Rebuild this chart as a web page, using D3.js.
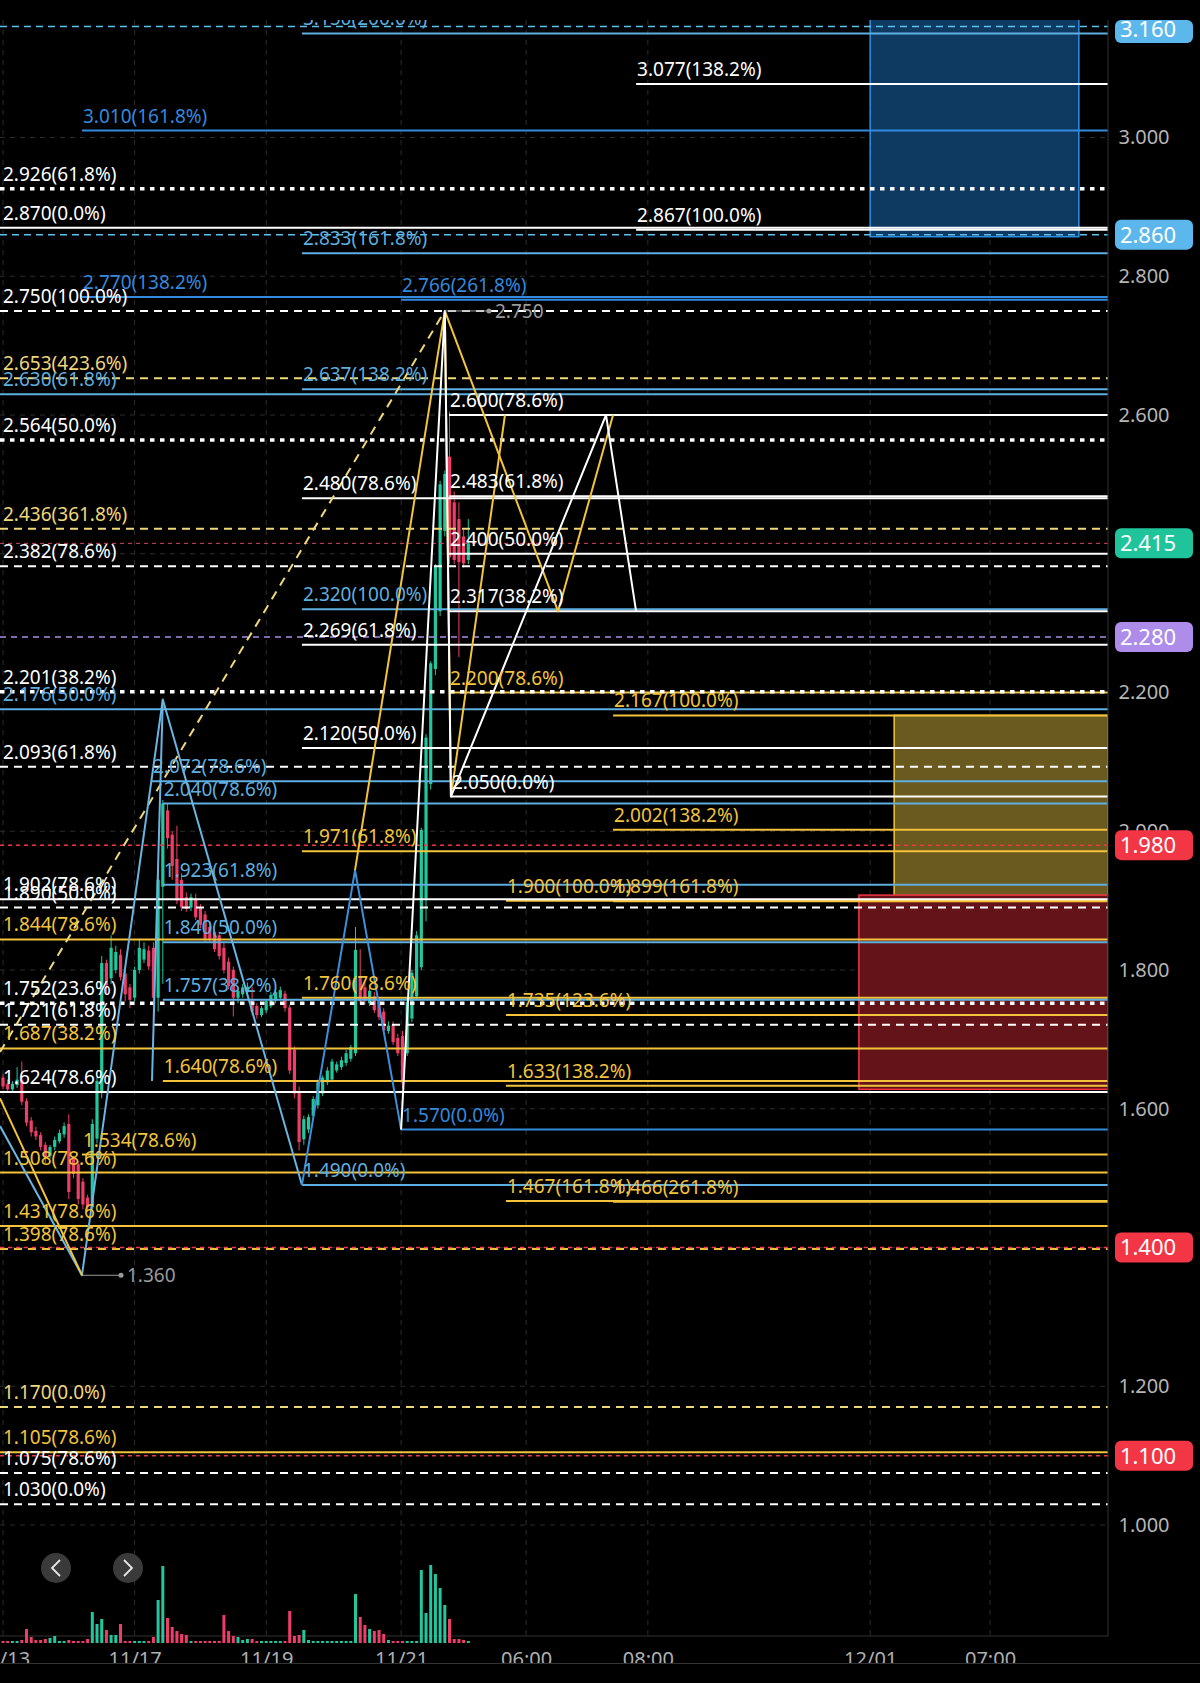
<!DOCTYPE html>
<html>
<head>
<meta charset="utf-8">
<title>Price levels</title>
<script src="https://cdn.jsdelivr.net/npm/d3@7"></script>
<style>
  html, body { margin: 0; padding: 0; background: #000; }
  svg { display: block; font-family: "Noto Sans", "Open Sans", sans-serif; }
</style>
</head>
<body>
<svg id="chart" width="1200" height="1683"></svg>
<script>
// ---------- candle series, one entry per bar ----------
const opens = [1.645,1.636,1.628,1.634,1.642,1.611,1.583,1.568,1.562,1.548,
  1.532,1.545,1.553,1.563,1.578,1.528,1.520,1.495,1.472,1.458,
  1.557,1.623,1.810,1.788,1.800,1.822,1.795,1.775,1.760,1.800,
  1.815,1.828,1.832,1.760,1.920,2.030,1.995,1.960,1.930,1.905,
  1.890,1.902,1.890,1.880,1.862,1.855,1.850,1.832,1.812,1.800,
  1.760,1.765,1.768,1.758,1.748,1.735,1.742,1.748,1.756,1.760,
  1.766,1.746,1.685,1.625,1.556,1.570,1.590,1.605,1.622,1.638,
  1.642,1.655,1.660,1.666,1.672,1.680,1.790,1.775,1.752,1.762,
  1.755,1.740,1.712,1.721,1.702,1.705,1.680,1.730,1.762,1.804,
  1.903,2.068,2.234,2.317,2.433,2.540,2.474,2.450,2.425,2.391];
const highs = [1.650,1.642,1.640,1.660,1.668,1.615,1.588,1.574,1.566,1.552,
  1.548,1.560,1.570,1.580,1.592,1.532,1.525,1.500,1.476,1.585,
  1.645,1.820,1.815,1.850,1.835,1.830,1.805,1.780,1.805,1.845,
  1.840,1.835,1.840,1.950,2.045,2.040,2.000,2.008,1.940,1.912,
  1.910,1.910,1.895,1.885,1.870,1.862,1.855,1.840,1.818,1.805,
  1.775,1.780,1.782,1.776,1.752,1.748,1.758,1.768,1.772,1.776,
  1.770,1.750,1.690,1.632,1.590,1.592,1.618,1.642,1.648,1.660,
  1.672,1.668,1.675,1.685,1.692,1.862,1.830,1.785,1.775,1.768,
  1.760,1.745,1.726,1.726,1.708,1.712,1.760,1.800,1.856,2.005,
  2.140,2.245,2.385,2.505,2.520,2.605,2.490,2.474,2.435,2.450];
const lows = [1.628,1.625,1.624,1.630,1.605,1.575,1.560,1.555,1.540,1.522,
  1.528,1.540,1.550,1.558,1.470,1.500,1.462,1.455,1.452,1.455,
  1.550,1.615,1.765,1.780,1.795,1.785,1.755,1.745,1.755,1.795,
  1.810,1.800,1.727,1.740,1.780,1.975,1.930,1.895,1.885,1.884,
  1.885,1.872,1.860,1.840,1.840,1.826,1.815,1.795,1.772,1.733,
  1.752,1.760,1.762,1.735,1.730,1.732,1.738,1.745,1.752,1.757,
  1.740,1.650,1.615,1.540,1.548,1.565,1.585,1.600,1.618,1.634,
  1.640,1.652,1.656,1.662,1.668,1.676,1.750,1.750,1.748,1.738,
  1.728,1.710,1.708,1.692,1.676,1.630,1.676,1.725,1.758,1.800,
  1.870,2.060,2.225,2.310,2.425,2.385,2.385,2.251,2.380,2.385];
const closes = [1.632,1.628,1.636,1.642,1.610,1.580,1.566,1.560,1.545,1.530,
  1.545,1.555,1.565,1.575,1.480,1.506,1.470,1.462,1.458,1.578,
  1.640,1.810,1.778,1.832,1.826,1.790,1.765,1.757,1.800,1.832,
  1.830,1.805,1.760,1.930,2.040,1.990,1.950,1.900,1.890,1.888,
  1.905,1.876,1.865,1.845,1.845,1.830,1.820,1.800,1.777,1.760,
  1.770,1.775,1.776,1.740,1.735,1.745,1.755,1.764,1.768,1.771,
  1.745,1.655,1.622,1.552,1.585,1.588,1.614,1.638,1.645,1.655,
  1.668,1.664,1.670,1.680,1.689,1.829,1.755,1.756,1.770,1.742,
  1.732,1.713,1.720,1.696,1.680,1.638,1.754,1.796,1.850,2.002,
  2.135,2.242,2.383,2.500,2.515,2.395,2.391,2.388,2.386,2.415];
const volumes = [2,2,2,2,3,14,6,3,3,4,
  5,7,2,2,3,2,2,2,4,31,
  19,24,13,8,8,19,2,2,2,2,
  2,2,6,43,77,25,16,12,9,8,
  2,2,2,2,2,2,2,28,12,7,
  6,3,4,4,2,2,2,2,2,2,
  2,32,7,8,13,3,2,2,2,2,
  2,2,2,2,2,49,26,18,14,12,
  13,9,3,2,2,2,2,2,2,73,
  30,78,69,55,38,24,4,4,3,2];

// ---------- axes ----------
const priceTicks = [3.0, 2.8, 2.6, 2.4, 2.2, 2.0, 1.8, 1.6, 1.4, 1.2, 1.0];
const timeTickBars = [0, 28, 56, 84.7, 111.3, 137.2, 184.5, 210];
const timeTickLabels = ["11/13", "11/17", "11/19", "11/21", "06:00", "08:00", "12/01", "07:00"];

// ---------- fibonacci levels: [price, ratio, first bar (null = from the left edge)] ----------
const whiteSolidLevels = [
  [3.077, "138.2%", 134.7], [2.870, "0.0%", null], [2.867, "100.0%", 134.7],
  [2.600, "78.6%", 94.9], [2.483, "61.8%", 94.9], [2.480, "78.6%", 63.6],
  [2.400, "50.0%", 94.9], [2.317, "38.2%", 94.9], [2.269, "61.8%", 63.6],
  [2.120, "50.0%", 63.6], [2.050, "0.0%", 95.3], [1.902, "78.6%", null],
  [1.624, "78.6%", null]
];
const whiteDashedLevels = [
  [2.750, "100.0%", null], [2.382, "78.6%", null], [2.093, "61.8%", null],
  [1.890, "50.0%", null], [1.721, "61.8%", null], [1.075, "78.6%", null],
  [1.030, "0.0%", null]
];
const whiteDottedLevels = [
  [2.926, "61.8%", null], [2.564, "50.0%", null], [2.201, "38.2%", null], [1.752, "23.6%", null]
];
const skyLevels = [
  [3.150, "200.0%", 63.6], [2.833, "161.8%", 63.6], [2.637, "138.2%", 63.6],
  [2.630, "61.8%", null], [2.320, "100.0%", 63.6], [2.176, "50.0%", null],
  [2.072, "78.6%", 31.7], [2.040, "78.6%", 34], [1.923, "61.8%", 34],
  [1.840, "50.0%", 34], [1.757, "38.2%", 34], [1.490, "0.0%", 63.6]
];
const blueLevels = [
  [3.010, "161.8%", 16.8], [2.770, "138.2%", 16.8], [2.766, "261.8%", 84.7], [1.570, "0.0%", 84.7]
];
const goldLevels = [
  [2.200, "78.6%", 94.9], [2.167, "100.0%", 129.8], [2.002, "138.2%", 129.8],
  [1.971, "61.8%", 63.6], [1.900, "100.0%", 107], [1.899, "161.8%", 129.8],
  [1.844, "78.6%", null], [1.760, "78.6%", 63.6], [1.735, "123.6%", 107],
  [1.687, "38.2%", null], [1.640, "78.6%", 34], [1.633, "138.2%", 107],
  [1.534, "78.6%", 16.8], [1.508, "78.6%", null], [1.467, "161.8%", 107],
  [1.466, "261.8%", 129.8], [1.431, "78.6%", null], [1.105, "78.6%", null]
];
const goldDashedLevels = [[1.398, "78.6%", null]];
const paleDashedLevels = [[2.653, "423.6%", null], [2.436, "361.8%", null], [1.170, "0.0%", null]];

// ---------- horizontal price marks with axis badges ----------
const alertPrices = [1.980, 1.400, 1.100];
const targetPrices = [3.160, 2.860];
const markPrice = 2.280;
const lastPrice = 2.415;

// ---------- pattern legs: [bar, price] ----------
const skyLegLeft = [[-0.64, 1.575], [16.8, 1.360], [34.0, 2.190], [63.6, 1.490]];
const skyLegSpike = [[31.7, 1.640], [34.0, 2.190]];
const blueLegRight = [[63.6, 1.490], [74.9, 1.944], [84.7, 1.570]];
const goldLegLeft = [[-0.64, 1.615], [16.8, 1.360]];
const goldLegA = [[74.9, 1.944], [94.0, 2.750], [95.3, 2.050], [106.8, 2.600]];
const goldLegB = [[94.0, 2.750], [118.1, 2.317], [129.8, 2.600]];
const whiteLeg = [[84.7, 1.570], [94.0, 2.750], [95.3, 2.050], [128.3, 2.600], [134.7, 2.317]];
const paleDashedLeg = [[-0.64, 1.682], [94.0, 2.750]];

// swing extremes: [bar, price, end bar of the pointer]
const swingMarks = [[94.0, 2.750, 103.4], [16.8, 1.360, 25.1]];

// ---------- projection zones: [first bar, last bar, top price, bottom price] ----------
const blueZone = [184.5, 228.9, 3.175, 2.857];
const oliveZone = [189.6, 235.1, 2.167, 1.906];
const redZone = [182.1, 235.1, 1.908, 1.628];

// ---------- layout ----------
const svg = d3.select("#chart");
const paneRight = 1108, paneTop = 20, paneBottom = 1636, volBase = 1643;
const x = d3.scaleLinear().domain([-0.64, 235.1]).range([0, paneRight]);
const y = d3.scaleLinear().domain([1.0, 3.0]).range([1525, 137.5]);
const vol = d3.scaleLinear().domain([0, 100]).range([0, 100]);

const WHITE = "#ffffff", SKY = "#5eaedf", BLUE = "#3389de", GOLD = "#f3c33c",
      PALE = "#f0d77a", RED = "#f23645", PURPLE = "#ad8de9", TEAL = "#20c49b",
      SKY_BADGE = "#5cb8ec", UP = "#22c79e", DOWN = "#ef3d6a", GRID = "#2c2c2c";

svg.append("rect").attr("width", 1200).attr("height", 1683).attr("fill", "#000");

const defs = svg.append("defs");
defs.append("clipPath").attr("id", "pane").append("rect")
  .attr("x", 0).attr("y", paneTop).attr("width", paneRight).attr("height", paneBottom - paneTop + 8);
defs.append("clipPath").attr("id", "timeClip").append("rect")
  .attr("x", 0).attr("y", paneBottom).attr("width", 1200).attr("height", 1663 - paneBottom);
defs.append("clipPath").attr("id", "badgeClip").append("rect")
  .attr("x", paneRight).attr("y", paneTop).attr("width", 1200 - paneRight).attr("height", paneBottom - paneTop);

const pane = svg.append("g").attr("clip-path", "url(#pane)");

// grid
const grid = pane.append("g");
grid.selectAll("line.h").data(priceTicks).join("line")
  .attr("x1", 0).attr("x2", paneRight).attr("y1", d => y(d)).attr("y2", d => y(d))
  .attr("stroke", GRID).attr("stroke-width", 1).attr("stroke-dasharray", "5,5");
grid.selectAll("line.v").data(timeTickBars).join("line")
  .attr("x1", d => x(d)).attr("x2", d => x(d)).attr("y1", paneTop).attr("y2", paneBottom)
  .attr("stroke", GRID).attr("stroke-width", 1).attr("stroke-dasharray", "5,5");

// zones
function zone(z, fill, stroke) {
  const [b0, b1, top, bottom] = z;
  pane.append("rect").attr("x", x(b0)).attr("y", y(top))
    .attr("width", x(b1) - x(b0)).attr("height", y(bottom) - y(top))
    .attr("fill", fill).attr("stroke", stroke).attr("stroke-width", 1.5);
}
zone(blueZone, "#0e3a62", "#2c8fe6");
zone(oliveZone, "#6b5a1f", GOLD);
zone(redZone, "#641418", RED);

// volume
const bars = d3.range(opens.length);
pane.append("g").selectAll("rect").data(bars).join("rect")
  .attr("x", i => x(i) - 1.5).attr("width", 3)
  .attr("y", i => volBase - vol(volumes[i])).attr("height", i => vol(volumes[i]))
  .attr("fill", i => closes[i] >= opens[i] ? UP : DOWN);

// candles
const candles = pane.append("g");
candles.selectAll("line").data(bars).join("line")
  .attr("x1", i => x(i)).attr("x2", i => x(i))
  .attr("y1", i => y(highs[i])).attr("y2", i => y(lows[i]))
  .attr("stroke", i => closes[i] >= opens[i] ? UP : DOWN).attr("stroke-width", 1);
candles.selectAll("rect").data(bars).join("rect")
  .attr("x", i => x(i) - 1.6).attr("width", 3.2)
  .attr("y", i => y(Math.max(opens[i], closes[i])))
  .attr("height", i => Math.max(1, Math.abs(y(opens[i]) - y(closes[i]))))
  .attr("fill", i => closes[i] >= opens[i] ? UP : DOWN);

// horizontal levels
const levelG = pane.append("g");
const labelG = pane.append("g").attr("font-size", 19);
function levels(rows, stroke, width, dash, labelColor) {
  rows.forEach(([price, ratio, start]) => {
    const x0 = start === null ? 0 : x(start);
    levelG.append("line").attr("x1", x0).attr("x2", paneRight)
      .attr("y1", y(price)).attr("y2", y(price))
      .attr("stroke", stroke).attr("stroke-width", width)
      .attr("stroke-dasharray", dash);
    labelG.append("text").attr("x", start === null ? 3 : x0 + 1).attr("y", y(price) - 8)
      .attr("fill", labelColor).text(`${price.toFixed(3)}(${ratio})`);
  });
}
function plainLine(price, stroke, width, dash) {
  levelG.append("line").attr("x1", 0).attr("x2", paneRight)
    .attr("y1", y(price)).attr("y2", y(price))
    .attr("stroke", stroke).attr("stroke-width", width).attr("stroke-dasharray", dash);
}
targetPrices.forEach(p => plainLine(p, "#5cc1ee", 1.5, "7,5"));
plainLine(markPrice, PURPLE, 1.5, "6,5");
plainLine(lastPrice, "#d9455f", 1, "4,4");
levels(paleDashedLevels, PALE, 2, "8,6", PALE);
levels(goldDashedLevels, GOLD, 2, "8,6", GOLD);
levels(goldLevels, GOLD, 2, null, GOLD);
levels(skyLevels, SKY, 2, null, SKY);
levels(blueLevels, BLUE, 2, null, BLUE);
levels(whiteSolidLevels, WHITE, 2, null, WHITE);
levels(whiteDashedLevels, WHITE, 2, "8,6", WHITE);
levels(whiteDottedLevels, WHITE, 3.5, "4.5,5.5", WHITE);
alertPrices.forEach(p => plainLine(p, RED, 1.5, "4,4"));

// pattern legs
const leg = d3.line().x(d => x(d[0])).y(d => y(d[1]));
const legs = pane.append("g").attr("fill", "none").attr("stroke-linejoin", "round");
legs.append("path").attr("d", leg(paleDashedLeg)).attr("stroke", PALE).attr("stroke-width", 2).attr("stroke-dasharray", "9,7");
legs.append("path").attr("d", leg(skyLegLeft)).attr("stroke", "#6ab4e2").attr("stroke-width", 2);
legs.append("path").attr("d", leg(skyLegSpike)).attr("stroke", "#6ab4e2").attr("stroke-width", 2);
legs.append("path").attr("d", leg(blueLegRight)).attr("stroke", "#3f8fd8").attr("stroke-width", 2);
legs.append("path").attr("d", leg(goldLegLeft)).attr("stroke", GOLD).attr("stroke-width", 2);
legs.append("path").attr("d", leg(goldLegA)).attr("stroke", GOLD).attr("stroke-width", 2);
legs.append("path").attr("d", leg(goldLegB)).attr("stroke", GOLD).attr("stroke-width", 2);
legs.append("path").attr("d", leg(whiteLeg)).attr("stroke", WHITE).attr("stroke-width", 2);

// swing extreme pointers
swingMarks.forEach(([b, p, tip]) => {
  pane.append("line").attr("x1", x(b)).attr("x2", x(tip)).attr("y1", y(p)).attr("y2", y(p))
    .attr("stroke", "#9a9a9a").attr("stroke-width", 1);
  pane.append("circle").attr("cx", x(tip)).attr("cy", y(p)).attr("r", 2.5).attr("fill", "#9a9a9a");
  pane.append("text").attr("x", x(tip) + 6).attr("y", y(p)).attr("dy", "0.35em")
    .attr("font-size", 19).attr("fill", "#9a9a9a").text(p.toFixed(3));
});

// labels on top of everything in the pane
labelG.raise();

// frame
svg.append("line").attr("x1", paneRight).attr("x2", paneRight).attr("y1", 0).attr("y2", paneBottom)
  .attr("stroke", "#333").attr("stroke-width", 1);
svg.append("line").attr("x1", 0).attr("x2", paneRight).attr("y1", paneBottom).attr("y2", paneBottom)
  .attr("stroke", "#333").attr("stroke-width", 1).lower();
svg.select("rect").lower();
svg.append("line").attr("x1", 0).attr("x2", 1200).attr("y1", 1663.5).attr("y2", 1663.5)
  .attr("stroke", "#333").attr("stroke-width", 1);

// price axis
const badges = [
  ...targetPrices.map(p => [p, SKY_BADGE]),
  [lastPrice, TEAL], [markPrice, PURPLE],
  ...alertPrices.map(p => [p, RED])
];
const shownTicks = priceTicks.filter(t => badges.every(([p]) => Math.abs(y(t) - y(p)) > 12));
const yAxis = svg.append("g").attr("transform", `translate(${paneRight},0)`)
  .call(d3.axisRight(y).tickValues(shownTicks).tickFormat(d3.format(".3f")).tickSize(0).tickPadding(36));
yAxis.select(".domain").remove();
yAxis.selectAll("text").attr("text-anchor", "middle").attr("fill", "#b5b5b5")
  .attr("font-size", 20).attr("font-family", "Noto Sans, sans-serif");

// time axis
const xAxis = svg.append("g").attr("clip-path", "url(#timeClip)")
  .append("g").attr("transform", `translate(0,${paneBottom})`)
  .call(d3.axisBottom(x).tickValues(timeTickBars).tickFormat((d, i) => timeTickLabels[i]).tickSize(0).tickPadding(16));
xAxis.select(".domain").remove();
xAxis.selectAll("text").attr("fill", "#b0b0b0").attr("font-size", 20).attr("font-family", "Noto Sans, sans-serif");

// scroll buttons
[[56, "M60,1560 L52,1568 L60,1576"], [128, "M124,1560 L132,1568 L124,1576"]].forEach(([cx, d]) => {
  svg.append("circle").attr("cx", cx).attr("cy", 1568).attr("r", 15).attr("fill", "#3a3a3a");
  svg.append("path").attr("d", d).attr("fill", "none").attr("stroke", "#e6e6e6").attr("stroke-width", 1.8);
});

// top edge of the screen
svg.append("rect").attr("x", 0).attr("y", 0).attr("width", 1200).attr("height", paneTop).attr("fill", "#000");

// price badges: the box stays inside the pane, the value text is always whole
const badgeG = svg.append("g");
badges.forEach(([p, color]) => {
  const cy = y(p);
  const top = Math.max(cy - 15, paneTop);
  const bottom = Math.max(cy + 15, paneTop + 23);
  badgeG.append("rect").attr("x", 1115).attr("y", top).attr("width", 78).attr("height", bottom - top)
    .attr("rx", 6).attr("fill", color);
  badgeG.append("text").attr("x", 1148).attr("y", Math.max(cy, top + 9)).attr("dy", "0.36em")
    .attr("text-anchor", "middle").attr("fill", "#fff").attr("font-size", 22).text(p.toFixed(3));
});
</script>
</body>
</html>
